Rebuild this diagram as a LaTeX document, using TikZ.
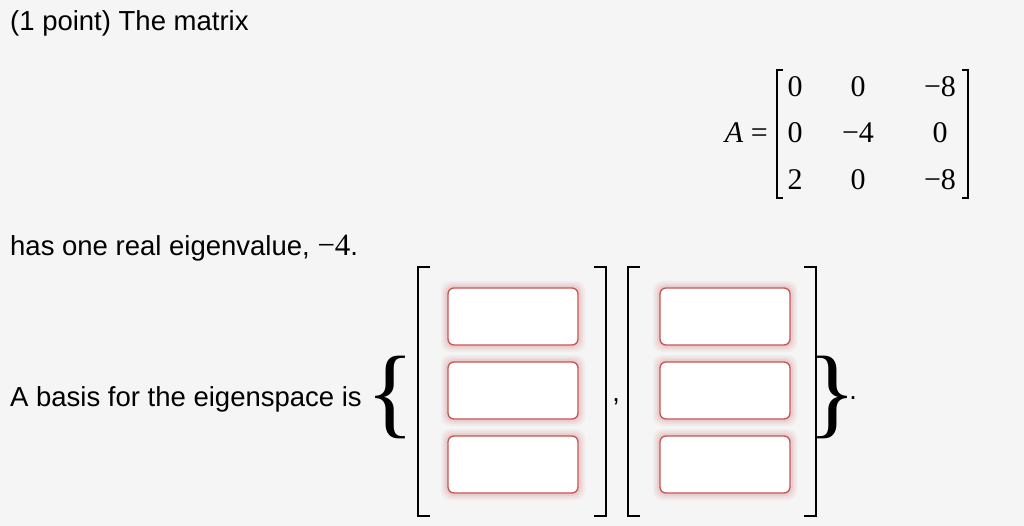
\documentclass[tikz,border=0pt]{standalone}
\usepackage{fontspec}
\setmainfont{Liberation Sans}
\newfontfamily\mathserif{Liberation Serif}
\begin{document}
\begin{tikzpicture}[x=1pt,y=-1pt,
  txt/.style={anchor=base west,inner sep=0,font=\fontsize{27.5}{30}\selectfont},
  num/.style={anchor=base,inner sep=0,font=\mathserif\fontsize{30}{32}\selectfont},
  brk/.style={line width=1.6pt},
  inbox/.style={draw=red!50!gray!90,line width=1.3pt,fill=white,rounded corners=6pt}]
\fill[gray!8] (0,0) rectangle (1024,526);
\useasboundingbox (0,0) rectangle (1024,526);
\node[txt] (t1) at (10,31) {(1 point) The matrix};
\node[txt] (t2) at (10,256) {has one real eigenvalue, {\mathserif\fontsize{31}{32}\selectfont −4}.};
\node[txt] (t3) at (10,406) {A basis for the eigenspace is};
% matrix A
\node[num,anchor=base east] (A) at (768,143) {\textit{A} =};
\node[num] (a11) at (795,97) {0};\node[num] (a12) at (858,97) {0};\node[num] (a13) at (940,97) {−8};
\node[num] (a21) at (795,143) {0};\node[num] (a22) at (858,143) {−4};\node[num] (a23) at (940,143) {0};
\node[num] (a31) at (795,190) {2};\node[num] (a32) at (858,190) {0};\node[num] (a33) at (940,190) {−8};
\draw[line width=1.3pt] (783,70) -- (777,70) -- (777,198) -- (783,198);
\draw[line width=1.3pt] (962,70) -- (968,70) -- (968,198) -- (962,198);
% braces
\node[inner sep=0,font=\mathserif\fontsize{100}{100}\selectfont] (lb) at (390,397) {\{};
\node[inner sep=0,font=\mathserif\fontsize{100}{100}\selectfont] (rb) at (832,397) {\}};
\node[inner sep=0,font=\fontsize{27}{30}\selectfont] (dot) at (853,398) {.};
\node[inner sep=0,font=\fontsize{27}{30}\selectfont] (com) at (616,402) {,};
% vectors
\foreach \xl/\xr/\bx in {418/606/448, 628/816/660}{
  \draw[brk] (\xl+12,267) -- (\xl,267) -- (\xl,516) -- (\xl+12,516);
  \draw[brk] (\xr-12,267) -- (\xr,267) -- (\xr,516) -- (\xr-12,516);
  \foreach \by in {288,362,436}{
    \foreach \g/\o in {7/0.05,5/0.07,3/0.09}{
      \fill[red!60!gray,opacity=\o,rounded corners=9pt] (\bx-\g,\by-\g) rectangle (\bx+130+\g,\by+57+\g);}
    \draw[inbox] (\bx,\by) rectangle (\bx+130,\by+57);
  }
}
\end{tikzpicture}
\end{document}
